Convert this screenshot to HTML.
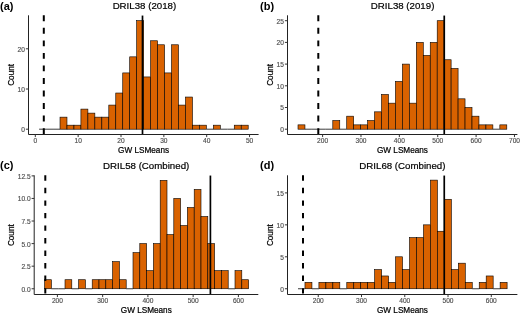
<!DOCTYPE html>
<html><head><meta charset="utf-8"><title>Histograms</title>
<style>html,body{margin:0;padding:0;background:#fff;}svg{display:block;font-family:'Liberation Sans', Arial, sans-serif;}</style>
</head><body>
<svg width="520" height="316" viewBox="0 0 520 316">
<rect width="520" height="316" fill="#fff"/>
<g fill="#D96200" stroke="#000" stroke-width="0.6"><rect x="39.1" y="129.2" width="6.97" height="0"/><rect x="46.07" y="129.2" width="6.97" height="0"/><rect x="53.04" y="129.2" width="6.97" height="0"/><rect x="60.01" y="117.14" width="6.97" height="12.06"/><rect x="66.98" y="125.18" width="6.97" height="4.02"/><rect x="73.95" y="125.18" width="6.97" height="4.02"/><rect x="80.92" y="109.1" width="6.97" height="20.1"/><rect x="87.89" y="113.12" width="6.97" height="16.08"/><rect x="94.86" y="117.14" width="6.97" height="12.06"/><rect x="101.83" y="117.14" width="6.97" height="12.06"/><rect x="108.8" y="105.08" width="6.97" height="24.12"/><rect x="115.77" y="93.02" width="6.97" height="36.18"/><rect x="122.74" y="72.92" width="6.97" height="56.28"/><rect x="129.71" y="56.84" width="6.97" height="72.36"/><rect x="136.68" y="20.66" width="6.97" height="108.54"/><rect x="143.65" y="76.94" width="6.97" height="52.26"/><rect x="150.62" y="40.76" width="6.97" height="88.44"/><rect x="157.59" y="44.78" width="6.97" height="84.42"/><rect x="164.56" y="72.92" width="6.97" height="56.28"/><rect x="171.53" y="44.78" width="6.97" height="84.42"/><rect x="178.5" y="105.08" width="6.97" height="24.12"/><rect x="185.47" y="97.04" width="6.97" height="32.16"/><rect x="192.44" y="125.18" width="6.97" height="4.02"/><rect x="199.41" y="125.18" width="6.97" height="4.02"/><rect x="206.38" y="129.2" width="6.97" height="0"/><rect x="213.35" y="125.18" width="6.97" height="4.02"/><rect x="220.32" y="129.2" width="6.97" height="0"/><rect x="227.29" y="129.2" width="6.97" height="0"/><rect x="234.26" y="125.18" width="6.97" height="4.02"/><rect x="241.23" y="125.18" width="6.97" height="4.02"/></g>
<path d="M39.1 129.2h6.97M46.07 129.2h6.97M53.04 129.2h6.97M206.38 129.2h6.97M220.32 129.2h6.97M227.29 129.2h6.97" stroke="#3a3a3a" stroke-width="1" fill="none"/>
<line x1="43.8" y1="15.3" x2="43.8" y2="134.5" stroke="#000" stroke-width="2" stroke-dasharray="5.9 6.64"/>
<line x1="142.5" y1="15.55" x2="142.5" y2="134.5" stroke="#000" stroke-width="1.7"/>
<path d="M28.5 15.3V134.5H258.6" fill="none" stroke="#222" stroke-width="1"/>
<path d="M25.9 129.2H28.5M25.9 89H28.5M25.9 48.8H28.5M35.3 134.5V137.1M78.15 134.5V137.1M121 134.5V137.1M163.85 134.5V137.1M206.7 134.5V137.1M249.55 134.5V137.1" stroke="#333" stroke-width="1"/>
<g fill="#4d4d4d" font-size="6.6" stroke="#4d4d4d" stroke-width="0.15"><text x="24.9" y="132.16" text-anchor="end">0</text><text x="24.9" y="91.96" text-anchor="end">10</text><text x="24.9" y="51.76" text-anchor="end">20</text><text x="35.3" y="143.43" text-anchor="middle">0</text><text x="78.15" y="143.43" text-anchor="middle">10</text><text x="121" y="143.43" text-anchor="middle">20</text><text x="163.85" y="143.43" text-anchor="middle">30</text><text x="206.7" y="143.43" text-anchor="middle">40</text><text x="249.55" y="143.43" text-anchor="middle">50</text></g>
<text x="143.55" y="152.5" text-anchor="middle" font-size="8.2" stroke="#000" stroke-width="0.22">GW LSMeans</text>
<text transform="translate(14.3 74.9) rotate(-90)" text-anchor="middle" font-size="8.2" stroke="#000" stroke-width="0.22">Count</text>
<text x="144.4" y="9.4" text-anchor="middle" font-size="9.7" stroke="#000" stroke-width="0.2">DRIL38 (2018)</text>
<text x="0" y="10" font-size="11" font-weight="bold">(a)</text>
<g fill="#D96200" stroke="#000" stroke-width="0.6"><rect x="298" y="124.86" width="6.96" height="4.34"/><rect x="304.96" y="129.2" width="6.96" height="0"/><rect x="311.92" y="129.2" width="6.96" height="0"/><rect x="318.88" y="129.2" width="6.96" height="0"/><rect x="325.84" y="129.2" width="6.96" height="0"/><rect x="332.8" y="120.52" width="6.96" height="8.68"/><rect x="339.76" y="129.2" width="6.96" height="0"/><rect x="346.72" y="116.18" width="6.96" height="13.02"/><rect x="353.68" y="124.86" width="6.96" height="4.34"/><rect x="360.64" y="124.86" width="6.96" height="4.34"/><rect x="367.6" y="120.52" width="6.96" height="8.68"/><rect x="374.56" y="111.84" width="6.96" height="17.36"/><rect x="381.52" y="94.48" width="6.96" height="34.72"/><rect x="388.48" y="103.16" width="6.96" height="26.04"/><rect x="395.44" y="81.46" width="6.96" height="47.74"/><rect x="402.4" y="64.1" width="6.96" height="65.1"/><rect x="409.36" y="103.16" width="6.96" height="26.04"/><rect x="416.32" y="42.4" width="6.96" height="86.8"/><rect x="423.28" y="55.42" width="6.96" height="73.78"/><rect x="430.24" y="42.4" width="6.96" height="86.8"/><rect x="437.2" y="20.7" width="6.96" height="108.5"/><rect x="444.16" y="59.76" width="6.96" height="69.44"/><rect x="451.12" y="68.44" width="6.96" height="60.76"/><rect x="458.08" y="98.82" width="6.96" height="30.38"/><rect x="465.04" y="107.5" width="6.96" height="21.7"/><rect x="472" y="116.18" width="6.96" height="13.02"/><rect x="478.96" y="124.86" width="6.96" height="4.34"/><rect x="485.92" y="124.86" width="6.96" height="4.34"/><rect x="492.88" y="129.2" width="6.96" height="0"/><rect x="499.84" y="124.86" width="6.96" height="4.34"/></g>
<path d="M304.96 129.2h6.96M311.92 129.2h6.96M318.88 129.2h6.96M325.84 129.2h6.96M339.76 129.2h6.96M492.88 129.2h6.96" stroke="#3a3a3a" stroke-width="1" fill="none"/>
<line x1="318.3" y1="15.3" x2="318.3" y2="134.5" stroke="#000" stroke-width="2" stroke-dasharray="5.9 6.64"/>
<line x1="444.25" y1="15.55" x2="444.25" y2="134.5" stroke="#000" stroke-width="1.7"/>
<path d="M287.5 15.3V134.5H517.4" fill="none" stroke="#222" stroke-width="1"/>
<path d="M284.9 129.2H287.5M284.9 107.5H287.5M284.9 85.8H287.5M284.9 64.1H287.5M284.9 42.4H287.5M284.9 20.7H287.5M322.6 134.5V137.1M360.98 134.5V137.1M399.35 134.5V137.1M437.73 134.5V137.1M476.1 134.5V137.1M514.48 134.5V137.1" stroke="#333" stroke-width="1"/>
<g fill="#4d4d4d" font-size="6.6" stroke="#4d4d4d" stroke-width="0.15"><text x="283.9" y="132.16" text-anchor="end">0</text><text x="283.9" y="110.46" text-anchor="end">5</text><text x="283.9" y="88.76" text-anchor="end">10</text><text x="283.9" y="67.06" text-anchor="end">15</text><text x="283.9" y="45.36" text-anchor="end">20</text><text x="283.9" y="23.66" text-anchor="end">25</text><text x="322.6" y="143.43" text-anchor="middle">200</text><text x="360.98" y="143.43" text-anchor="middle">300</text><text x="399.35" y="143.43" text-anchor="middle">400</text><text x="437.73" y="143.43" text-anchor="middle">500</text><text x="476.1" y="143.43" text-anchor="middle">600</text><text x="514.48" y="143.43" text-anchor="middle">700</text></g>
<text x="402.45" y="152.5" text-anchor="middle" font-size="8.2" stroke="#000" stroke-width="0.22">GW LSMeans</text>
<text transform="translate(272.7 74.9) rotate(-90)" text-anchor="middle" font-size="8.2" stroke="#000" stroke-width="0.22">Count</text>
<text x="402.6" y="9.4" text-anchor="middle" font-size="9.7" stroke="#000" stroke-width="0.2">DRIL38 (2019)</text>
<text x="260" y="10" font-size="11" font-weight="bold">(b)</text>
<g fill="#D96200" stroke="#000" stroke-width="0.6"><rect x="44.6" y="279.72" width="6.8" height="9.03"/><rect x="51.4" y="288.75" width="6.8" height="0"/><rect x="58.2" y="288.75" width="6.8" height="0"/><rect x="65" y="279.72" width="6.8" height="9.03"/><rect x="71.8" y="288.75" width="6.8" height="0"/><rect x="78.6" y="279.72" width="6.8" height="9.03"/><rect x="85.4" y="288.75" width="6.8" height="0"/><rect x="92.2" y="279.72" width="6.8" height="9.03"/><rect x="99" y="279.72" width="6.8" height="9.03"/><rect x="105.8" y="279.72" width="6.8" height="9.03"/><rect x="112.6" y="261.66" width="6.8" height="27.09"/><rect x="119.4" y="279.72" width="6.8" height="9.03"/><rect x="126.2" y="288.75" width="6.8" height="0"/><rect x="133" y="252.63" width="6.8" height="36.12"/><rect x="139.8" y="243.6" width="6.8" height="45.15"/><rect x="146.6" y="270.69" width="6.8" height="18.06"/><rect x="153.4" y="243.6" width="6.8" height="45.15"/><rect x="160.2" y="180.39" width="6.8" height="108.36"/><rect x="167" y="234.57" width="6.8" height="54.18"/><rect x="173.8" y="198.45" width="6.8" height="90.3"/><rect x="180.6" y="225.54" width="6.8" height="63.21"/><rect x="187.4" y="207.48" width="6.8" height="81.27"/><rect x="194.2" y="189.42" width="6.8" height="99.33"/><rect x="201" y="216.51" width="6.8" height="72.24"/><rect x="207.8" y="243.6" width="6.8" height="45.15"/><rect x="214.6" y="270.69" width="6.8" height="18.06"/><rect x="221.4" y="270.69" width="6.8" height="18.06"/><rect x="228.2" y="288.75" width="6.8" height="0"/><rect x="235" y="270.69" width="6.8" height="18.06"/><rect x="241.8" y="279.72" width="6.8" height="9.03"/></g>
<path d="M51.4 288.75h6.8M58.2 288.75h6.8M71.8 288.75h6.8M85.4 288.75h6.8M126.2 288.75h6.8M228.2 288.75h6.8" stroke="#3a3a3a" stroke-width="1" fill="none"/>
<line x1="45.3" y1="175.3" x2="45.3" y2="294.5" stroke="#000" stroke-width="2" stroke-dasharray="5.4 7.14"/>
<line x1="210.4" y1="175.55" x2="210.4" y2="294.5" stroke="#000" stroke-width="1.7"/>
<path d="M34.2 175.3V294.5H258.3" fill="none" stroke="#222" stroke-width="1"/>
<path d="M31.6 288.75H34.2M31.6 266.18H34.2M31.6 243.6H34.2M31.6 221.03H34.2M31.6 198.45H34.2M31.6 175.88H34.2M57.4 294.5V297.1M102.65 294.5V297.1M147.9 294.5V297.1M193.15 294.5V297.1M238.4 294.5V297.1" stroke="#333" stroke-width="1"/>
<g fill="#4d4d4d" font-size="6.6" stroke="#4d4d4d" stroke-width="0.15"><text x="30.6" y="291.71" text-anchor="end">0.0</text><text x="30.6" y="269.14" text-anchor="end">2.5</text><text x="30.6" y="246.56" text-anchor="end">5.0</text><text x="30.6" y="223.99" text-anchor="end">7.5</text><text x="30.6" y="201.41" text-anchor="end">10.0</text><text x="30.6" y="178.84" text-anchor="end">12.5</text><text x="57.4" y="303.43" text-anchor="middle">200</text><text x="102.65" y="303.43" text-anchor="middle">300</text><text x="147.9" y="303.43" text-anchor="middle">400</text><text x="193.15" y="303.43" text-anchor="middle">500</text><text x="238.4" y="303.43" text-anchor="middle">600</text></g>
<text x="146.25" y="312.5" text-anchor="middle" font-size="8.2" stroke="#000" stroke-width="0.22">GW LSMeans</text>
<text transform="translate(14.3 235.2) rotate(-90)" text-anchor="middle" font-size="8.2" stroke="#000" stroke-width="0.22">Count</text>
<text x="146.2" y="168.9" text-anchor="middle" font-size="9.7" stroke="#000" stroke-width="0.2">DRIL58 (Combined)</text>
<text x="0" y="169" font-size="11" font-weight="bold">(c)</text>
<g fill="#D96200" stroke="#000" stroke-width="0.6"><rect x="298" y="288.75" width="6.97" height="0"/><rect x="304.97" y="282.36" width="6.97" height="6.39"/><rect x="311.94" y="288.75" width="6.97" height="0"/><rect x="318.91" y="282.36" width="6.97" height="6.39"/><rect x="325.88" y="282.36" width="6.97" height="6.39"/><rect x="332.85" y="282.36" width="6.97" height="6.39"/><rect x="339.82" y="288.75" width="6.97" height="0"/><rect x="346.79" y="282.36" width="6.97" height="6.39"/><rect x="353.76" y="282.36" width="6.97" height="6.39"/><rect x="360.73" y="282.36" width="6.97" height="6.39"/><rect x="367.7" y="282.36" width="6.97" height="6.39"/><rect x="374.67" y="269.58" width="6.97" height="19.17"/><rect x="381.64" y="275.97" width="6.97" height="12.78"/><rect x="388.61" y="282.36" width="6.97" height="6.39"/><rect x="395.58" y="256.8" width="6.97" height="31.95"/><rect x="402.55" y="269.58" width="6.97" height="19.17"/><rect x="409.52" y="237.63" width="6.97" height="51.12"/><rect x="416.49" y="237.63" width="6.97" height="51.12"/><rect x="423.46" y="224.85" width="6.97" height="63.9"/><rect x="430.43" y="180.12" width="6.97" height="108.63"/><rect x="437.4" y="231.24" width="6.97" height="57.51"/><rect x="444.37" y="199.29" width="6.97" height="89.46"/><rect x="451.34" y="269.58" width="6.97" height="19.17"/><rect x="458.31" y="263.19" width="6.97" height="25.56"/><rect x="465.28" y="282.36" width="6.97" height="6.39"/><rect x="472.25" y="288.75" width="6.97" height="0"/><rect x="479.22" y="282.36" width="6.97" height="6.39"/><rect x="486.19" y="275.97" width="6.97" height="12.78"/><rect x="493.16" y="288.75" width="6.97" height="0"/><rect x="500.13" y="282.36" width="6.97" height="6.39"/></g>
<path d="M298 288.75h6.97M311.94 288.75h6.97M339.82 288.75h6.97M472.25 288.75h6.97M493.16 288.75h6.97" stroke="#3a3a3a" stroke-width="1" fill="none"/>
<line x1="303" y1="175.3" x2="303" y2="294.5" stroke="#000" stroke-width="2" stroke-dasharray="5.4 7.14"/>
<line x1="444.25" y1="175.55" x2="444.25" y2="294.5" stroke="#000" stroke-width="1.7"/>
<path d="M287.5 175.3V294.5H517.4" fill="none" stroke="#222" stroke-width="1"/>
<path d="M284.9 288.75H287.5M284.9 256.8H287.5M284.9 224.85H287.5M284.9 192.9H287.5M318.25 294.5V297.1M361.51 294.5V297.1M404.77 294.5V297.1M448.03 294.5V297.1M491.29 294.5V297.1" stroke="#333" stroke-width="1"/>
<g fill="#4d4d4d" font-size="6.6" stroke="#4d4d4d" stroke-width="0.15"><text x="283.9" y="291.71" text-anchor="end">0</text><text x="283.9" y="259.76" text-anchor="end">5</text><text x="283.9" y="227.81" text-anchor="end">10</text><text x="283.9" y="195.86" text-anchor="end">15</text><text x="318.25" y="303.43" text-anchor="middle">200</text><text x="361.51" y="303.43" text-anchor="middle">300</text><text x="404.77" y="303.43" text-anchor="middle">400</text><text x="448.03" y="303.43" text-anchor="middle">500</text><text x="491.29" y="303.43" text-anchor="middle">600</text></g>
<text x="402.45" y="312.5" text-anchor="middle" font-size="8.2" stroke="#000" stroke-width="0.22">GW LSMeans</text>
<text transform="translate(272.7 235.2) rotate(-90)" text-anchor="middle" font-size="8.2" stroke="#000" stroke-width="0.22">Count</text>
<text x="402.4" y="168.9" text-anchor="middle" font-size="9.7" stroke="#000" stroke-width="0.2">DRIL68 (Combined)</text>
<text x="260" y="169" font-size="11" font-weight="bold">(d)</text>
</svg>
</body></html>
